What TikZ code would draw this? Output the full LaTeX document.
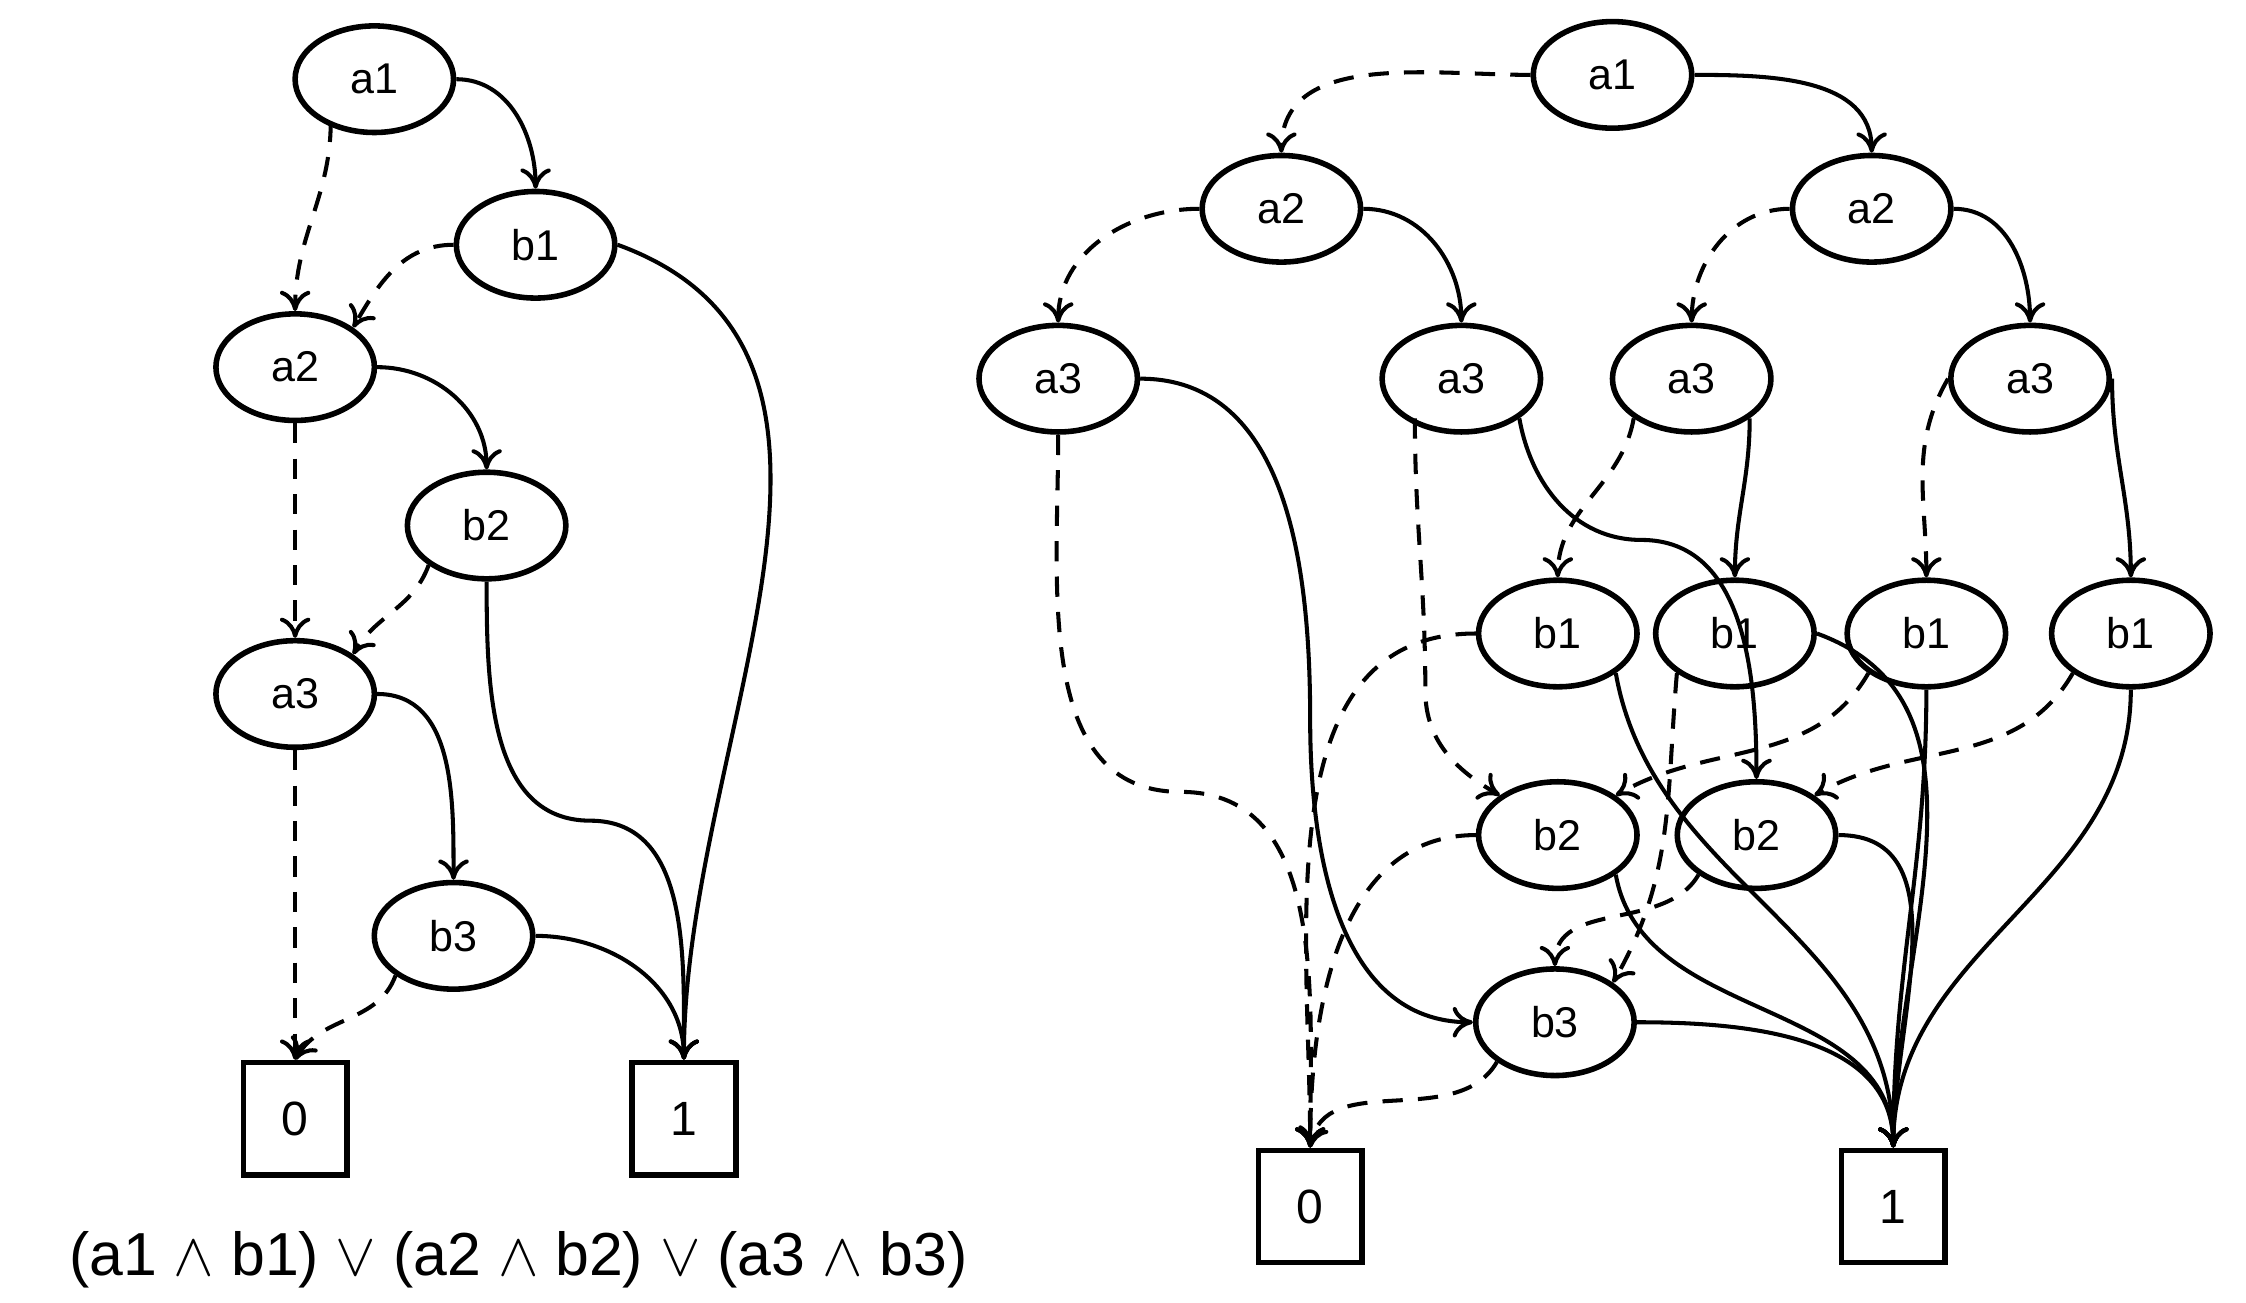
\documentclass[tikz,border=0pt]{standalone}
\usepackage{fontspec}
\setmainfont{Liberation Sans}
\usetikzlibrary{shapes.geometric,arrows.meta}
\begin{document}
\begin{tikzpicture}[x=0.01cm,y=-0.01cm,
 n/.style={ellipse,draw,line width=1.1pt,minimum width=1.1cm,minimum height=0.74cm,inner sep=0,font=\fontsize{8.5}{10}\selectfont},
 t/.style={rectangle,draw,line width=1.1pt,minimum width=0.72cm,minimum height=0.78cm,inner sep=0,font=\fontsize{9.5}{11}\selectfont},
 e/.style={line width=0.8pt,-{To[length=4pt,width=6pt]}},
 d/.style={e,dashed,dash pattern=on 4pt off 3pt}]
\useasboundingbox (0,0) rectangle (1560,905);
% left
\node[n] (la1) at (260,55) {a1};
\node[n] (lb1) at (372,170) {b1};
\node[n] (la2) at (205,255) {a2};
\node[n] (lb2) at (338,365) {b2};
\node[n] (la3) at (205,482) {a3};
\node[n] (lb3) at (315,650) {b3};
\node[t] (l0) at (205,777) {0};
\node[t] (l1) at (475,777) {1};
\node[font=\fontsize{12}{14}\selectfont] (f) at (360,875) {(a1 $\wedge$ b1) $\vee$ (a2 $\wedge$ b2) $\vee$ (a3 $\wedge$ b3)};
\draw[e] (la1.east) to[out=0,in=90] (lb1.north);
\draw[d] (la1.south west) ++(10,2) coordinate (c1) (c1) to[out=-90,in=90] (la2.north);
\draw[d] (lb1.west) to[out=180,in=60] (la2.north east);
\draw[e] (lb1.east) to[out=-20,in=90] (l1.north);
\draw[e] (la2.east) to[out=0,in=90] (lb2.north);
\draw[d] (la2.south) -- (la3.north);
\draw[d] (lb2.south west) to[out=-110,in=60] (la3.north east);
\draw[e] (lb2.south) to[out=-90,in=180] (410,570) to[out=0,in=90] (l1.north);
\draw[e] (la3.east) to[out=0,in=90] (lb3.north);
\draw[d] (la3.south) -- (l0.north);
\draw[d] (lb3.south west) to[out=-110,in=60] (l0.north);
\draw[e] (lb3.east) to[out=0,in=90] (l1.north);
% right
\node[n] (a1) at (1120,52) {a1};
\node[n] (a2l) at (890,145) {a2};
\node[n] (a2r) at (1300,145) {a2};
\node[n] (a3a) at (735,263) {a3};
\node[n] (a3b) at (1015,263) {a3};
\node[n] (a3c) at (1175,263) {a3};
\node[n] (a3d) at (1410,263) {a3};
\node[n] (b1a) at (1082,440) {b1};
\node[n] (b1b) at (1205,440) {b1};
\node[n] (b1c) at (1338,440) {b1};
\node[n] (b1d) at (1480,440) {b1};
\node[n] (b2a) at (1082,580) {b2};
\node[n] (b2b) at (1220,580) {b2};
\node[n] (b3) at (1080,710) {b3};
\node[t] (r0) at (910,838) {0};
\node[t] (r1) at (1315,838) {1};
\draw[d] (a1.west) to[out=180,in=90] (a2l.north);
\draw[e] (a1.east) to[out=0,in=90] (a2r.north);
\draw[d] (a2l.west) to[out=180,in=90] (a3a.north);
\draw[e] (a2l.east) to[out=0,in=90] (a3b.north);
\draw[d] (a2r.west) to[out=180,in=90] (a3c.north);
\draw[e] (a2r.east) to[out=0,in=90] (a3d.north);
\draw[d] (a3a.south) to[out=-90,in=180] (820,550) to[out=0,in=90] (r0.north);
\draw[e] (a3a.east) to[out=0,in=90] (910,500) to[out=-90,in=180] (b3.west);
\draw[d] (a3b.south west) ++(8,0) coordinate (c2) (c2) to[out=-90,in=90] (990,480) to[out=-90,in=150] (b2a.north west);
\draw[e] (a3b.south east) to[out=-80,in=180] (1140,375) to[out=0,in=90] (b2b.north);
\draw[d] (a3c.south west) to[out=-100,in=90] (b1a.north);
\draw[e] (a3c.south east) to[out=-90,in=90] (b1b.north);
\draw[d] (a3d.west) to[out=-120,in=90] (b1c.north);
\draw[e] (a3d.east) to[out=-90,in=90] (b1d.north);
\draw[d] (b1a.west) to[out=180,in=90] (r0.north);
\draw[e] (b1a.south east) to[out=-80,in=90] (r1.north);
\draw[d] (b1b.south west) to[out=-95,in=60] (b3.north east);
\draw[e] (b1b.east) to[out=-20,in=90] (r1.north);
\draw[d] (b1c.south west) to[out=-120,in=30] (b2a.north east);
\draw[e] (b1c.south) to[out=-90,in=90] (r1.north);
\draw[d] (b1d.south west) to[out=-120,in=30] (b2b.north east);
\draw[e] (b1d.south) to[out=-90,in=90] (r1.north);
\draw[d] (b2a.west) to[out=180,in=90] (r0.north);
\draw[e] (b2a.south east) to[out=-80,in=90] (r1.north);
\draw[d] (b2b.south west) to[out=-120,in=90] (b3.north);
\draw[e] (b2b.east) to[out=0,in=90] (r1.north);
\draw[d] (b3.south west) to[out=-120,in=80] (r0.north);
\draw[e] (b3.east) to[out=0,in=90] (r1.north);
\end{tikzpicture}
\end{document}
